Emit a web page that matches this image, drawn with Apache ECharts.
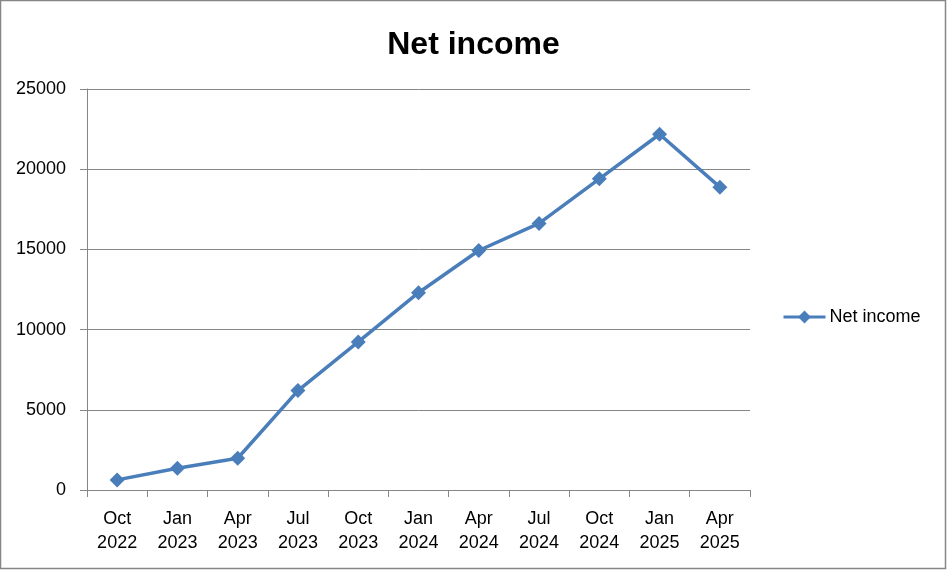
<!DOCTYPE html>
<html>
<head>
<meta charset="utf-8">
<script src="https://cdn.jsdelivr.net/npm/echarts@6/dist/echarts.min.js"></script>
<style>
  html, body { margin: 0; padding: 0; background: #fff; }
  #chart { width: 947px; height: 570px; }
</style>
</head>
<body>
<div id="chart"></div>
<script>
// data
var quarters = ['Oct\n2022', 'Jan\n2023', 'Apr\n2023', 'Jul\n2023', 'Oct\n2023', 'Jan\n2024',
                'Apr\n2024', 'Jul\n2024', 'Oct\n2024', 'Jan\n2025', 'Apr\n2025'];
var netIncome = [630, 1360, 1980, 6200, 9230, 12300, 14930, 16620, 19400, 22180, 18880];

var font = 'Liberation Sans';
var grey = '#868686';

var myChart = echarts.init(document.getElementById('chart'));
var option = {
  animation: false,
  backgroundColor: '#fff',
  title: {
    text: 'Net income',
    left: 'center',
    top: 24,
    textStyle: { fontFamily: font, fontSize: 32, fontWeight: 'bold', color: '#000' }
  },
  legend: {
    data: ['Net income'],
    left: 782,
    top: 308,
    padding: 0,
    itemWidth: 42,
    itemHeight: 16,
    itemGap: 0,
    lineStyle: { width: 3 },
    textStyle: { fontFamily: font, fontSize: 18, color: '#000', padding: [0, 0, 0, -1] }
  },
  grid: {
    left: 87,
    right: 197,
    top: 89,
    bottom: 80
  },
  xAxis: {
    type: 'category',
    data: quarters,
    boundaryGap: true,
    axisLine: { lineStyle: { color: grey, width: 1 } },
    axisTick: { show: true, length: 7, lineStyle: { color: grey } },
    axisLabel: {
      margin: 17,
      fontFamily: font,
      fontSize: 18,
      lineHeight: 24,
      color: '#000'
    }
  },
  yAxis: {
    type: 'value',
    min: 0,
    max: 25000,
    interval: 5000,
    axisLine: { show: true, lineStyle: { color: grey, width: 1 } },
    axisTick: { show: true, length: 7, lineStyle: { color: grey } },
    splitLine: { lineStyle: { color: grey, width: 1 } },
    axisLabel: {
      margin: 21,
      fontFamily: font,
      fontSize: 18,
      color: '#000',
      formatter: function (v) { return String(v); }
    }
  },
  series: [{
    name: 'Net income',
    type: 'line',
    data: netIncome,
    symbol: 'diamond',
    symbolSize: 15,
    lineStyle: { color: '#4A7EBB', width: 3.5 },
    itemStyle: { color: '#4A7EBB' }
  }],
  graphic: [{
    type: 'rect',
    shape: { x: 0.5, y: 0.5, width: 945, height: 568 },
    style: { fill: 'none', stroke: grey, lineWidth: 1.5 },
    silent: true
  }]
};
myChart.setOption(option);
</script>
</body>
</html>
